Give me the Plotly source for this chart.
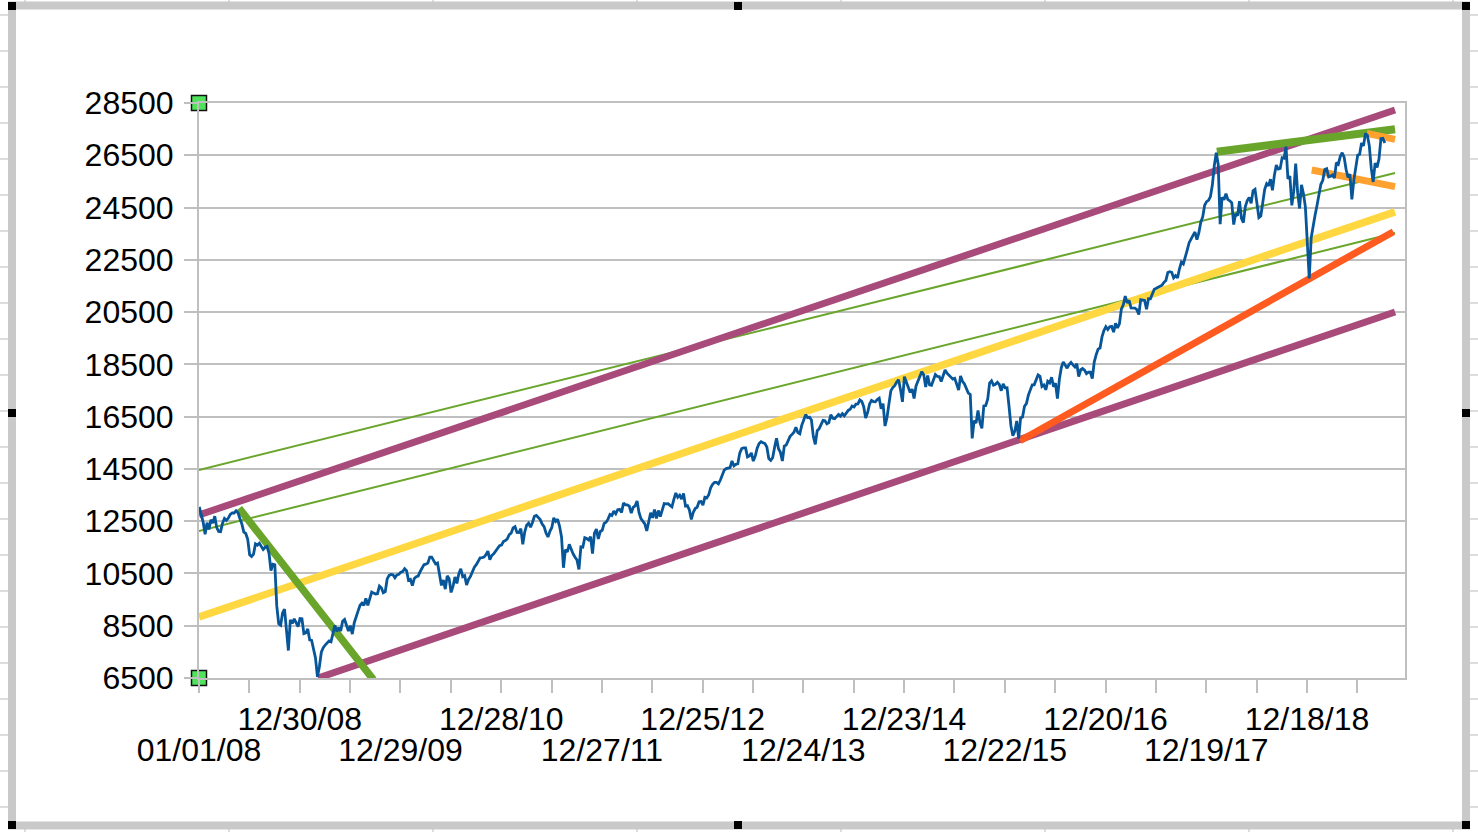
import pandas as pd
import plotly.graph_objects as go

# ---------------- data (weekly closes) ----------------
start_date = "2008-01-02"
djia_2008 = [13044, 12736, 12466, 12000, 12443, 12183, 12553, 12427, 12694,
             12254, 12110, 12099, 12422, 12605, 12527, 12620, 12763, 12820,
             12814, 12898, 12824, 12594, 12390, 12083, 12029, 11811,
             11215, 11147, 11239, 11632, 11583, 11656, 11532, 11417, 11502,
             11532, 11268, 10609, 10854, 10831, 9258, 8577, 8519, 8990,
             9139, 8282, 7552, 8726, 8591, 8761, 8604, 8468, 8776]
djia_2009 = [8769, 8200, 8228, 8375, 7956, 7939, 7555, 7270, 6547, 6930, 7486, 7660,
             7761, 7837, 7920, 7886, 8185, 8512, 8284, 8423, 8300, 8675, 8739, 8504, 8299,
             8504, 8178, 8616, 8881, 9070, 9280, 9362, 9279, 9543,
             9280, 9547, 9791, 9748, 9712, 9725, 10015, 9949, 9762,
             9802, 10291, 10426, 10464, 10453, 10337, 10441, 10466, 10548]
djia_2010 = [10573, 10680, 10604, 10236, 10270, 10038, 10309, 10374,
             10396, 10567, 10733, 10836, 10857, 10897, 11123, 11124, 10992,
             10866, 10897, 10444, 10043, 10249, 9899, 10409, 10298, 9774,
             10018, 10366, 10120, 10497, 10680, 10378, 10415, 10060,
             10270, 10387, 10572, 10739, 10835, 10967, 11096, 11108, 11126,
             11215, 11357, 11023, 11187, 11255, 11372, 11457, 11559, 11585]
djia_2011 = [11722, 11755, 11825, 11985, 12041, 12240, 12288, 12068,
             12066, 12213, 11613, 12086, 12350, 12426, 12270, 12453, 12690,
             12723, 12630, 12560, 12394, 12290, 12048, 11897, 12109, 12261,
             12626, 12492, 12571, 12302, 11896, 10719, 11410, 11320, 11613,
             11414, 11246, 11124, 11011, 10655, 11518, 11505, 11869,
             11836, 11780, 11905, 11257, 12045, 12196, 11823, 12107, 12151]
djia_2012 = [12418, 12462, 12578, 12756, 12716, 12883, 12780, 12938, 12952,
             12837, 13194, 13125, 13126, 13074, 12806, 13032, 13090,
             13268, 12835, 12599, 12496, 12400, 12127, 12496, 12824, 12627,
             12943, 12604, 12908, 12676, 12976, 13175, 13164, 13172, 13107,
             13047, 13333, 13577, 13413, 13495, 13344, 13557, 13077, 13096,
             12932, 12570, 12836, 12985, 13034, 13245, 13251, 13114]
djia_2013 = [13412, 13390, 13511, 13779, 13910, 13986, 13982, 13927, 14075,
             14296, 14455, 14511, 14526, 14550, 14802, 14618, 14676,
             14700, 15105, 15275, 15307, 15302, 14960, 14995, 15112, 14800,
             14988, 15291, 15470, 15542, 15500, 15470, 15337, 14897, 14824,
             14930, 15326, 15676, 15273, 15133, 14802, 15373, 15413, 15618,
             15746, 15821, 15900, 16097, 15889, 15844, 16167, 16357]
djia_2014 = [16577, 16462, 16481, 16373, 15738, 15440, 15964, 16040, 16198,
             16360, 16340, 16222, 16268, 16573, 16437, 16424, 16501, 16581,
             16518, 16613, 16533, 16633, 16738, 16781, 16906, 16868,
             16977, 16985, 17138, 17086, 16880, 16443, 16651, 16979, 17122,
             17078, 17068, 17156, 17210, 16804, 16994, 16141, 16461, 16974,
             17484, 17612, 17685, 17827, 17912, 17533, 17068, 18030, 17823]
djia_2015 = [17584, 17427, 17554, 17191, 17673, 17862, 18029, 18224,
             18097, 17635, 18076, 17718, 17698, 17902, 18112, 18038, 18035,
             17842, 18060, 18285, 18162, 18076, 18000, 17935, 17967,
             17757, 17515, 18054, 17852, 17751, 17541, 17402, 17349, 15666,
             16351, 16253, 16740, 16280, 16050, 16912, 16925, 17169, 17780,
             17868, 17702, 17737, 17813, 17730, 17492, 17749, 17602, 17604]
djia_2016 = [16907, 16152, 15767, 15945, 16337, 15660, 16454, 16485,
             16899, 17000, 17325, 17502, 17716, 17716, 17908, 18096, 18041,
             17651, 17711, 17526, 17851, 17790, 18005, 17640, 17780, 17190,
             17919, 18372, 18595, 18472, 18355, 18495, 18573, 18481, 18400,
             18526, 18034, 18293, 18339, 18281, 18144, 18202, 18199,
             17959, 18589, 18868, 19083, 19124, 19549, 19792, 19941, 19833]
djia_2017 = [19942, 19954, 19732, 20069, 19890, 20054, 20611, 20775,
             21115, 20855, 20950, 20661, 20659, 20648, 20592, 20404, 20975,
             20957, 20943, 20607, 21012, 21009, 21174, 21374, 21410, 21454,
             21479, 21532, 21640, 21711, 22016, 22048, 22024, 21812, 21892,
             21807, 22158, 22412, 22341, 22661, 22872, 23157, 23329,
             23435, 23563, 23271, 23526, 23940, 24140, 24585, 24726, 24774]
djia_2018 = [24922, 25369, 26116, 26600, 26149, 23860, 24893, 24798, 25029,
             24801, 24758, 24682, 23848, 24264, 24189, 24748, 24083,
             23925, 24542, 24768, 24886, 24667, 25146, 25201, 24657, 24117,
             24174, 24700, 25199, 25414, 25333, 25583, 25162, 25733, 26124,
             25974, 25998, 26405, 26385, 26828, 25598, 25706, 24583, 25115,
             26180, 25080, 24464, 25366, 25027, 24527, 23323, 21792]
djia_2019 = [23346, 23879, 24207, 24575, 25014, 25390, 25543, 25954, 25985,
             25673, 25702, 25745, 25626, 26218, 26157, 26449, 26597,
             26430, 25967, 25648, 25776, 24815, 25539, 26004, 26504, 26536,
             26966, 26860, 27335, 27269, 26864, 26007, 25479, 26202, 26036,
             26355, 27137, 27147, 26970]

# trend lines drawn on the chart (date endpoints, value endpoints)
purple_upper_x = ["2008-01-01", "2019-11-01"]; purple_upper_y = [12737, 28232]
purple_lower_x = ["2009-03-06", "2019-11-01"]; purple_lower_y = [6500, 20504]
yellow_x = ["2008-01-01", "2019-11-01"]; yellow_y = [8834, 24335]
green_thin1_x = ["2008-01-01", "2019-11-01"]; green_thin1_y = [14459, 25822]
green_thin2_x = ["2008-01-01", "2019-11-01"]; green_thin2_y = [12125, 23526]
green_down_x = ["2008-05-25", "2009-09-22"]; green_down_y = [12993, 6440]
green_top_x = ["2018-01-26", "2019-11-01"]; green_top_y = [26637, 27494]
red_x = ["2016-02-15", "2019-10-26"]; red_y = [15579, 23576]
orange_upper_x = ["2019-07-22", "2019-11-01"]; orange_upper_y = [27340, 27110]
orange_lower_x = ["2019-01-04", "2019-11-01"]; orange_lower_y = [25937, 25298]

# axes
y_ticks = list(range(6500, 28501, 2000))
x_range = ["2008-01-01", "2019-12-07"]
upper_labels = ["12/30/08", "12/28/10", "12/25/12", "12/23/14", "12/20/16", "12/18/18"]
lower_labels = ["01/01/08", "12/29/09", "12/27/11", "12/24/13", "12/22/15", "12/19/17"]

# ---------------- build ----------------
series = (djia_2008 + djia_2009 + djia_2010 + djia_2011 + djia_2012 + djia_2013 +
          djia_2014 + djia_2015 + djia_2016 + djia_2017 + djia_2018 + djia_2019)
dates = pd.date_range(start_date, periods=len(series), freq="7D")

half_year_ticks = pd.date_range(x_range[0], periods=24, freq="182D")
upper_text = []
for i in range(len(half_year_ticks)):
    if i % 4 == 2:
        upper_text.append(upper_labels[i // 4])
    else:
        upper_text.append("")
lower_ticks = [half_year_ticks[i] for i in range(0, 24, 4)]

FONT = "Liberation Sans, Arial, sans-serif"
FS = 32
W, H = 1478, 832
L, R, T, B = 199, 1405, 103, 678

fig = go.Figure()

def seg(x, y, color, width):
    fig.add_trace(go.Scatter(x=pd.to_datetime(x), y=y, mode="lines",
                             line=dict(color=color, width=width),
                             hoverinfo="skip", showlegend=False))

seg(green_thin1_x, green_thin1_y, "#6aa62c", 2)
seg(green_thin2_x, green_thin2_y, "#6aa62c", 2)
seg(yellow_x, yellow_y, "#ffd740", 7.5)
seg(purple_upper_x, purple_upper_y, "#a84b7a", 7)
seg(purple_lower_x, purple_lower_y, "#a84b7a", 7)
seg(green_down_x, green_down_y, "#6aa52b", 7.5)
seg(green_top_x, green_top_y, "#6aa52b", 8)
seg(red_x, red_y, "#ff5a1f", 7)
seg(orange_upper_x, orange_upper_y, "#ffa12e", 7)
seg(orange_lower_x, orange_lower_y, "#ffa12e", 7)

fig.add_trace(go.Scatter(x=dates, y=series, mode="lines",
                         line=dict(color="#07569a", width=2.8),
                         hoverinfo="skip", showlegend=False))

# y-axis selection handles
fig.add_trace(go.Scatter(x=pd.to_datetime([x_range[0], x_range[0]]), y=[y_ticks[-1], y_ticks[0]],
                         mode="markers", cliponaxis=False,
                         marker=dict(symbol="square", size=15, color="#4fe35c",
                                     line=dict(color="#111111", width=1.5)),
                         hoverinfo="skip", showlegend=False))

# invisible trace to activate second x axis (lower row of labels)
fig.add_trace(go.Scatter(x=[lower_ticks[0]], y=[y_ticks[0]], xaxis="x2", mode="markers",
                         marker=dict(opacity=0), hoverinfo="skip", showlegend=False))

GRID = "#bfbfbf"
fig.update_layout(
    width=W, height=H,
    margin=dict(l=L, r=W - R, t=T, b=H - B),
    paper_bgcolor="white", plot_bgcolor="white",
    font=dict(family=FONT, size=FS, color="black"),
    showlegend=False,
    xaxis=dict(type="date", range=x_range, tickmode="array",
               tickvals=list(half_year_ticks), ticktext=upper_text,
               ticks="outside", ticklen=13, tickwidth=2, tickcolor=GRID,
               showline=True, linecolor=GRID, linewidth=2, mirror=True,
               showgrid=False, zeroline=False, ticklabelstandoff=-1,
               tickfont=dict(family=FONT, size=FS, color="black")),
    xaxis2=dict(type="date", range=x_range, overlaying="x", anchor="y", side="bottom",
                tickmode="array", tickvals=lower_ticks, ticktext=lower_labels,
                ticks="", showline=False, showgrid=False, zeroline=False,
                ticklabelstandoff=50,
                tickfont=dict(family=FONT, size=FS, color="black")),
    yaxis=dict(range=[y_ticks[0], y_ticks[-1]], tickmode="array", tickvals=y_ticks,
               ticktext=[str(v) for v in y_ticks],
               ticks="outside", ticklen=13, tickwidth=2, tickcolor=GRID,
               showline=True, linecolor=GRID, linewidth=2, mirror=True,
               showgrid=True, gridcolor=GRID, gridwidth=2, zeroline=False,
               ticklabelstandoff=4,
               tickfont=dict(family=FONT, size=FS, color="black")),
)

# ---------------- spreadsheet / selection frame decorations ----------------
def px(xp):
    return (xp - L) / (R - L)

def py(yp):
    return (B - yp) / (B - T)

shapes = []
CELL = "#d2d2d2"
for k in range(24):
    yy = 15 + 36 * k
    shapes.append(dict(type="line", xref="paper", yref="paper", x0=px(0), x1=px(8),
                       y0=py(yy), y1=py(yy), line=dict(color=CELL, width=1.5)))
    shapes.append(dict(type="line", xref="paper", yref="paper", x0=px(1470), x1=px(1478),
                       y0=py(yy), y1=py(yy), line=dict(color=CELL, width=1.5)))
for k in range(8):
    xx = 25 + 204 * k
    shapes.append(dict(type="line", xref="paper", yref="paper", x0=px(xx), x1=px(xx),
                       y0=py(0), y1=py(3), line=dict(color=CELL, width=1.5)))
    shapes.append(dict(type="line", xref="paper", yref="paper", x0=px(xx), x1=px(xx),
                       y0=py(829), y1=py(832), line=dict(color=CELL, width=1.5)))
shapes.append(dict(type="rect", xref="paper", yref="paper", x0=px(12), x1=px(1466),
                   y0=py(825.5), y1=py(5.5), line=dict(color="#c9c9c9", width=8)))
for (hx, hy) in [(12, 6), (738, 6), (1466, 6), (12, 413), (1466, 413),
                 (12, 825), (738, 825), (1466, 825)]:
    shapes.append(dict(type="rect", xref="paper", yref="paper", x0=px(hx - 4), x1=px(hx + 4),
                       y0=py(hy + 4), y1=py(hy - 4), fillcolor="black",
                       line=dict(color="black", width=0)))
fig.update_layout(shapes=shapes)

fig.write_html("out.html", config={"displayModeBar": False},
               post_script="document.body.style.margin='0';document.body.style.overflow='hidden';")
